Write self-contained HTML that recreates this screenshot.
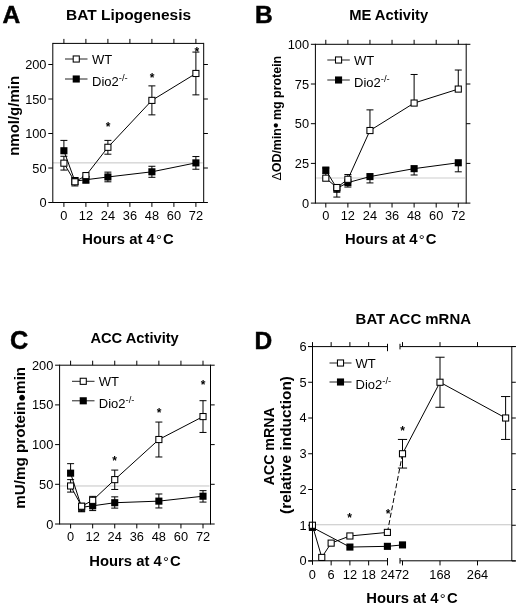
<!DOCTYPE html>
<html lang="en"><head><meta charset="utf-8"><title>Figure</title>
<style>html,body{margin:0;padding:0;background:#fff}svg{display:block;filter:blur(0.3px)}</style>
</head><body>
<svg width="520" height="608" viewBox="0 0 520 608" font-family="'Liberation Sans', sans-serif" fill="#000">
<rect width="520" height="608" fill="#fff"/>
<line x1="52.8" y1="162.89" x2="202.7" y2="162.89" stroke="#c4c4c4" stroke-width="1"/>
<line x1="52.8" y1="42.9" x2="52.8" y2="203" stroke="#000" stroke-width="1.0"/>
<line x1="203.7" y1="42.9" x2="203.7" y2="203" stroke="#000" stroke-width="1.0"/>
<line x1="52.8" y1="43.4" x2="203.7" y2="43.4" stroke="#000" stroke-width="1.0"/>
<line x1="52.8" y1="202.5" x2="203.7" y2="202.5" stroke="#000" stroke-width="1.0"/>
<line x1="63.9" y1="202.5" x2="63.9" y2="206.9" stroke="#000" stroke-width="1.0"/>
<line x1="63.9" y1="43.4" x2="63.9" y2="38.9" stroke="#000" stroke-width="1.0"/>
<text x="63.9" y="219.8" font-size="12.8" text-anchor="middle">0</text>
<line x1="85.9" y1="202.5" x2="85.9" y2="206.9" stroke="#000" stroke-width="1.0"/>
<line x1="85.9" y1="43.4" x2="85.9" y2="38.9" stroke="#000" stroke-width="1.0"/>
<text x="85.9" y="219.8" font-size="12.8" text-anchor="middle">12</text>
<line x1="107.9" y1="202.5" x2="107.9" y2="206.9" stroke="#000" stroke-width="1.0"/>
<line x1="107.9" y1="43.4" x2="107.9" y2="38.9" stroke="#000" stroke-width="1.0"/>
<text x="107.9" y="219.8" font-size="12.8" text-anchor="middle">24</text>
<line x1="129.9" y1="202.5" x2="129.9" y2="206.9" stroke="#000" stroke-width="1.0"/>
<line x1="129.9" y1="43.4" x2="129.9" y2="38.9" stroke="#000" stroke-width="1.0"/>
<text x="129.9" y="219.8" font-size="12.8" text-anchor="middle">36</text>
<line x1="151.9" y1="202.5" x2="151.9" y2="206.9" stroke="#000" stroke-width="1.0"/>
<line x1="151.9" y1="43.4" x2="151.9" y2="38.9" stroke="#000" stroke-width="1.0"/>
<text x="151.9" y="219.8" font-size="12.8" text-anchor="middle">48</text>
<line x1="173.9" y1="202.5" x2="173.9" y2="206.9" stroke="#000" stroke-width="1.0"/>
<line x1="173.9" y1="43.4" x2="173.9" y2="38.9" stroke="#000" stroke-width="1.0"/>
<text x="173.9" y="219.8" font-size="12.8" text-anchor="middle">60</text>
<line x1="195.9" y1="202.5" x2="195.9" y2="206.9" stroke="#000" stroke-width="1.0"/>
<line x1="195.9" y1="43.4" x2="195.9" y2="38.9" stroke="#000" stroke-width="1.0"/>
<text x="195.9" y="219.8" font-size="12.8" text-anchor="middle">72</text>
<line x1="52.8" y1="202.5" x2="48.3" y2="202.5" stroke="#000" stroke-width="1.0"/>
<line x1="203.7" y1="202.5" x2="207.9" y2="202.5" stroke="#000" stroke-width="1.0"/>
<text x="46.5" y="207" font-size="12.8" text-anchor="end">0</text>
<line x1="52.8" y1="168" x2="48.3" y2="168" stroke="#000" stroke-width="1.0"/>
<line x1="203.7" y1="168" x2="207.9" y2="168" stroke="#000" stroke-width="1.0"/>
<text x="46.5" y="172.5" font-size="12.8" text-anchor="end">50</text>
<line x1="52.8" y1="133.5" x2="48.3" y2="133.5" stroke="#000" stroke-width="1.0"/>
<line x1="203.7" y1="133.5" x2="207.9" y2="133.5" stroke="#000" stroke-width="1.0"/>
<text x="46.5" y="138" font-size="12.8" text-anchor="end">100</text>
<line x1="52.8" y1="99" x2="48.3" y2="99" stroke="#000" stroke-width="1.0"/>
<line x1="203.7" y1="99" x2="207.9" y2="99" stroke="#000" stroke-width="1.0"/>
<text x="46.5" y="103.5" font-size="12.8" text-anchor="end">150</text>
<line x1="52.8" y1="64.5" x2="48.3" y2="64.5" stroke="#000" stroke-width="1.0"/>
<line x1="203.7" y1="64.5" x2="207.9" y2="64.5" stroke="#000" stroke-width="1.0"/>
<text x="46.5" y="69" font-size="12.8" text-anchor="end">200</text>
<line x1="63.9" y1="140.4" x2="63.9" y2="150.75" stroke="#000" stroke-width="1.0"/>
<line x1="60.4" y1="140.4" x2="67.4" y2="140.4" stroke="#000" stroke-width="1.0"/>
<line x1="74.9" y1="177.66" x2="74.9" y2="184.56" stroke="#000" stroke-width="1.0"/>
<line x1="71.4" y1="177.66" x2="78.4" y2="177.66" stroke="#000" stroke-width="1.0"/>
<line x1="71.4" y1="184.56" x2="78.4" y2="184.56" stroke="#000" stroke-width="1.0"/>
<line x1="85.9" y1="176.28" x2="85.9" y2="183.18" stroke="#000" stroke-width="1.0"/>
<line x1="82.4" y1="176.28" x2="89.4" y2="176.28" stroke="#000" stroke-width="1.0"/>
<line x1="82.4" y1="183.18" x2="89.4" y2="183.18" stroke="#000" stroke-width="1.0"/>
<line x1="107.9" y1="172.14" x2="107.9" y2="181.8" stroke="#000" stroke-width="1.0"/>
<line x1="104.4" y1="172.14" x2="111.4" y2="172.14" stroke="#000" stroke-width="1.0"/>
<line x1="104.4" y1="181.8" x2="111.4" y2="181.8" stroke="#000" stroke-width="1.0"/>
<line x1="151.9" y1="166.28" x2="151.9" y2="177.31" stroke="#000" stroke-width="1.0"/>
<line x1="148.4" y1="166.28" x2="155.4" y2="166.28" stroke="#000" stroke-width="1.0"/>
<line x1="148.4" y1="177.31" x2="155.4" y2="177.31" stroke="#000" stroke-width="1.0"/>
<line x1="195.9" y1="156.55" x2="195.9" y2="169.24" stroke="#000" stroke-width="1.0"/>
<line x1="192.4" y1="156.55" x2="199.4" y2="156.55" stroke="#000" stroke-width="1.0"/>
<line x1="192.4" y1="169.24" x2="199.4" y2="169.24" stroke="#000" stroke-width="1.0"/>
<polyline points="63.9,150.75 74.9,181.11 85.9,179.73 107.9,176.97 151.9,171.8 195.9,162.89" fill="none" stroke="#000" stroke-width="1.0"/>
<rect x="60.35" y="147.2" width="7.1" height="7.1" fill="#000"/>
<rect x="71.35" y="177.56" width="7.1" height="7.1" fill="#000"/>
<rect x="82.35" y="176.18" width="7.1" height="7.1" fill="#000"/>
<rect x="104.35" y="173.42" width="7.1" height="7.1" fill="#000"/>
<rect x="148.35" y="168.25" width="7.1" height="7.1" fill="#000"/>
<rect x="192.35" y="159.34" width="7.1" height="7.1" fill="#000"/>
<line x1="63.9" y1="156.27" x2="63.9" y2="170.07" stroke="#000" stroke-width="1.0"/>
<line x1="60.4" y1="156.27" x2="67.4" y2="156.27" stroke="#000" stroke-width="1.0"/>
<line x1="60.4" y1="170.07" x2="67.4" y2="170.07" stroke="#000" stroke-width="1.0"/>
<line x1="74.9" y1="177.66" x2="74.9" y2="185.94" stroke="#000" stroke-width="1.0"/>
<line x1="71.4" y1="177.66" x2="78.4" y2="177.66" stroke="#000" stroke-width="1.0"/>
<line x1="71.4" y1="185.94" x2="78.4" y2="185.94" stroke="#000" stroke-width="1.0"/>
<line x1="107.9" y1="140.4" x2="107.9" y2="154.2" stroke="#000" stroke-width="1.0"/>
<line x1="104.4" y1="140.4" x2="111.4" y2="140.4" stroke="#000" stroke-width="1.0"/>
<line x1="104.4" y1="154.2" x2="111.4" y2="154.2" stroke="#000" stroke-width="1.0"/>
<line x1="151.9" y1="85.89" x2="151.9" y2="114.87" stroke="#000" stroke-width="1.0"/>
<line x1="148.4" y1="85.89" x2="155.4" y2="85.89" stroke="#000" stroke-width="1.0"/>
<line x1="148.4" y1="114.87" x2="155.4" y2="114.87" stroke="#000" stroke-width="1.0"/>
<line x1="195.9" y1="52.08" x2="195.9" y2="94.86" stroke="#000" stroke-width="1.0"/>
<line x1="192.4" y1="52.08" x2="199.4" y2="52.08" stroke="#000" stroke-width="1.0"/>
<line x1="192.4" y1="94.86" x2="199.4" y2="94.86" stroke="#000" stroke-width="1.0"/>
<polyline points="63.9,163.17 74.9,181.8 85.9,175.59 107.9,147.3 151.9,100.38 195.9,73.47" fill="none" stroke="#000" stroke-width="1.0"/>
<rect x="60.85" y="160.12" width="6.1" height="6.1" fill="#fff" stroke="#000" stroke-width="1.05"/>
<rect x="71.85" y="178.75" width="6.1" height="6.1" fill="#fff" stroke="#000" stroke-width="1.05"/>
<rect x="82.85" y="172.54" width="6.1" height="6.1" fill="#fff" stroke="#000" stroke-width="1.05"/>
<rect x="104.85" y="144.25" width="6.1" height="6.1" fill="#fff" stroke="#000" stroke-width="1.05"/>
<rect x="148.85" y="97.33" width="6.1" height="6.1" fill="#fff" stroke="#000" stroke-width="1.05"/>
<rect x="192.85" y="70.42" width="6.1" height="6.1" fill="#fff" stroke="#000" stroke-width="1.05"/>
<text x="108" y="131.3" font-size="12" font-weight="bold" text-anchor="middle">*</text>
<text x="152" y="81.5" font-size="12" font-weight="bold" text-anchor="middle">*</text>
<text x="196.9" y="55.8" font-size="12" font-weight="bold" text-anchor="middle">*</text>
<line x1="65" y1="59" x2="87.5" y2="59" stroke="#222" stroke-width="1.0"/>
<rect x="73.2" y="55.95" width="6.1" height="6.1" fill="#fff" stroke="#000" stroke-width="1.05"/>
<text x="92" y="63.5" font-size="13" text-anchor="start">WT</text>
<line x1="65" y1="79" x2="87.5" y2="79" stroke="#222" stroke-width="1.0"/>
<rect x="72.7" y="75.45" width="7.1" height="7.1" fill="#000"/>
<text x="92" y="86.3" font-size="13" text-anchor="start">Dio2<tspan font-size="9.5" dy="-5.5">-/-</tspan></text>
<text x="128.6" y="20.3" font-size="14.8" font-weight="bold" text-anchor="middle" textLength="125" lengthAdjust="spacingAndGlyphs">BAT Lipogenesis</text>
<text x="2.5" y="23.3" font-size="24.5" font-weight="bold" text-anchor="start" stroke="#000" stroke-width="0.5">A</text>
<text x="128" y="244.4" font-size="14.8" font-weight="bold" text-anchor="middle">Hours at 4<tspan font-weight="normal" dx="1.2" dy="0.8">°</tspan><tspan dx="1.2" dy="-0.8">C</tspan></text>
<text transform="translate(18.9,115.9) rotate(-90)" font-size="14.8" font-weight="bold" text-anchor="middle" textLength="79.9" lengthAdjust="spacingAndGlyphs">nmol/g/min</text>
<line x1="315.4" y1="178.01" x2="465.2" y2="178.01" stroke="#cdcdcd" stroke-width="1"/>
<line x1="315.4" y1="43.8" x2="315.4" y2="203.6" stroke="#000" stroke-width="1.0"/>
<line x1="466.2" y1="43.8" x2="466.2" y2="203.6" stroke="#000" stroke-width="1.0"/>
<line x1="315.4" y1="44.3" x2="466.2" y2="44.3" stroke="#000" stroke-width="1.0"/>
<line x1="315.4" y1="203.1" x2="466.2" y2="203.1" stroke="#000" stroke-width="1.0"/>
<line x1="325.8" y1="203.1" x2="325.8" y2="207.5" stroke="#000" stroke-width="1.0"/>
<line x1="325.8" y1="44.3" x2="325.8" y2="39.8" stroke="#000" stroke-width="1.0"/>
<text x="325.8" y="220.4" font-size="12.8" text-anchor="middle">0</text>
<line x1="347.88" y1="203.1" x2="347.88" y2="207.5" stroke="#000" stroke-width="1.0"/>
<line x1="347.88" y1="44.3" x2="347.88" y2="39.8" stroke="#000" stroke-width="1.0"/>
<text x="347.88" y="220.4" font-size="12.8" text-anchor="middle">12</text>
<line x1="369.96" y1="203.1" x2="369.96" y2="207.5" stroke="#000" stroke-width="1.0"/>
<line x1="369.96" y1="44.3" x2="369.96" y2="39.8" stroke="#000" stroke-width="1.0"/>
<text x="369.96" y="220.4" font-size="12.8" text-anchor="middle">24</text>
<line x1="392.04" y1="203.1" x2="392.04" y2="207.5" stroke="#000" stroke-width="1.0"/>
<line x1="392.04" y1="44.3" x2="392.04" y2="39.8" stroke="#000" stroke-width="1.0"/>
<text x="392.04" y="220.4" font-size="12.8" text-anchor="middle">36</text>
<line x1="414.12" y1="203.1" x2="414.12" y2="207.5" stroke="#000" stroke-width="1.0"/>
<line x1="414.12" y1="44.3" x2="414.12" y2="39.8" stroke="#000" stroke-width="1.0"/>
<text x="414.12" y="220.4" font-size="12.8" text-anchor="middle">48</text>
<line x1="436.2" y1="203.1" x2="436.2" y2="207.5" stroke="#000" stroke-width="1.0"/>
<line x1="436.2" y1="44.3" x2="436.2" y2="39.8" stroke="#000" stroke-width="1.0"/>
<text x="436.2" y="220.4" font-size="12.8" text-anchor="middle">60</text>
<line x1="458.28" y1="203.1" x2="458.28" y2="207.5" stroke="#000" stroke-width="1.0"/>
<line x1="458.28" y1="44.3" x2="458.28" y2="39.8" stroke="#000" stroke-width="1.0"/>
<text x="458.28" y="220.4" font-size="12.8" text-anchor="middle">72</text>
<line x1="315.4" y1="203.1" x2="310.9" y2="203.1" stroke="#000" stroke-width="1.0"/>
<line x1="466.2" y1="203.1" x2="470.4" y2="203.1" stroke="#000" stroke-width="1.0"/>
<text x="309.1" y="207.6" font-size="12.8" text-anchor="end">0</text>
<line x1="315.4" y1="163.4" x2="310.9" y2="163.4" stroke="#000" stroke-width="1.0"/>
<line x1="466.2" y1="163.4" x2="470.4" y2="163.4" stroke="#000" stroke-width="1.0"/>
<text x="309.1" y="167.9" font-size="12.8" text-anchor="end">25</text>
<line x1="315.4" y1="123.7" x2="310.9" y2="123.7" stroke="#000" stroke-width="1.0"/>
<line x1="466.2" y1="123.7" x2="470.4" y2="123.7" stroke="#000" stroke-width="1.0"/>
<text x="309.1" y="128.2" font-size="12.8" text-anchor="end">50</text>
<line x1="315.4" y1="84" x2="310.9" y2="84" stroke="#000" stroke-width="1.0"/>
<line x1="466.2" y1="84" x2="470.4" y2="84" stroke="#000" stroke-width="1.0"/>
<text x="309.1" y="88.5" font-size="12.8" text-anchor="end">75</text>
<line x1="315.4" y1="44.3" x2="310.9" y2="44.3" stroke="#000" stroke-width="1.0"/>
<line x1="466.2" y1="44.3" x2="470.4" y2="44.3" stroke="#000" stroke-width="1.0"/>
<text x="309.1" y="48.8" font-size="12.8" text-anchor="end">100</text>
<line x1="325.8" y1="168.01" x2="325.8" y2="170.07" stroke="#000" stroke-width="1.0"/>
<line x1="322.3" y1="168.01" x2="329.3" y2="168.01" stroke="#000" stroke-width="1.0"/>
<line x1="336.84" y1="188.33" x2="336.84" y2="192.3" stroke="#000" stroke-width="1.0"/>
<line x1="333.34" y1="192.3" x2="340.34" y2="192.3" stroke="#000" stroke-width="1.0"/>
<line x1="347.88" y1="182.61" x2="347.88" y2="187.06" stroke="#000" stroke-width="1.0"/>
<line x1="344.38" y1="187.06" x2="351.38" y2="187.06" stroke="#000" stroke-width="1.0"/>
<line x1="369.96" y1="176.58" x2="369.96" y2="182.93" stroke="#000" stroke-width="1.0"/>
<line x1="366.46" y1="182.93" x2="373.46" y2="182.93" stroke="#000" stroke-width="1.0"/>
<line x1="414.12" y1="168.64" x2="414.12" y2="174.99" stroke="#000" stroke-width="1.0"/>
<line x1="410.62" y1="174.99" x2="417.62" y2="174.99" stroke="#000" stroke-width="1.0"/>
<line x1="458.28" y1="162.76" x2="458.28" y2="171.82" stroke="#000" stroke-width="1.0"/>
<line x1="454.78" y1="171.82" x2="461.78" y2="171.82" stroke="#000" stroke-width="1.0"/>
<polyline points="325.8,170.07 336.84,188.33 347.88,182.61 369.96,176.58 414.12,168.64 458.28,162.76" fill="none" stroke="#000" stroke-width="1.0"/>
<rect x="322.25" y="166.52" width="7.1" height="7.1" fill="#000"/>
<rect x="333.29" y="184.78" width="7.1" height="7.1" fill="#000"/>
<rect x="344.33" y="179.06" width="7.1" height="7.1" fill="#000"/>
<rect x="366.41" y="173.03" width="7.1" height="7.1" fill="#000"/>
<rect x="410.57" y="165.09" width="7.1" height="7.1" fill="#000"/>
<rect x="454.73" y="159.21" width="7.1" height="7.1" fill="#000"/>
<line x1="325.8" y1="173.4" x2="325.8" y2="178.17" stroke="#000" stroke-width="1.0"/>
<line x1="322.3" y1="173.4" x2="329.3" y2="173.4" stroke="#000" stroke-width="1.0"/>
<line x1="336.84" y1="187.54" x2="336.84" y2="197.07" stroke="#000" stroke-width="1.0"/>
<line x1="333.34" y1="197.07" x2="340.34" y2="197.07" stroke="#000" stroke-width="1.0"/>
<line x1="347.88" y1="174.52" x2="347.88" y2="179.28" stroke="#000" stroke-width="1.0"/>
<line x1="344.38" y1="174.52" x2="351.38" y2="174.52" stroke="#000" stroke-width="1.0"/>
<line x1="369.96" y1="109.88" x2="369.96" y2="130.53" stroke="#000" stroke-width="1.0"/>
<line x1="366.46" y1="109.88" x2="373.46" y2="109.88" stroke="#000" stroke-width="1.0"/>
<line x1="414.12" y1="74.47" x2="414.12" y2="103.06" stroke="#000" stroke-width="1.0"/>
<line x1="410.62" y1="74.47" x2="417.62" y2="74.47" stroke="#000" stroke-width="1.0"/>
<line x1="458.28" y1="70.03" x2="458.28" y2="89.08" stroke="#000" stroke-width="1.0"/>
<line x1="454.78" y1="70.03" x2="461.78" y2="70.03" stroke="#000" stroke-width="1.0"/>
<polyline points="325.8,178.17 336.84,187.54 347.88,179.28 369.96,130.53 414.12,103.06 458.28,89.08" fill="none" stroke="#000" stroke-width="1.0"/>
<rect x="322.75" y="175.12" width="6.1" height="6.1" fill="#fff" stroke="#000" stroke-width="1.05"/>
<rect x="333.79" y="184.49" width="6.1" height="6.1" fill="#fff" stroke="#000" stroke-width="1.05"/>
<rect x="344.83" y="176.23" width="6.1" height="6.1" fill="#fff" stroke="#000" stroke-width="1.05"/>
<rect x="366.91" y="127.48" width="6.1" height="6.1" fill="#fff" stroke="#000" stroke-width="1.05"/>
<rect x="411.07" y="100.01" width="6.1" height="6.1" fill="#fff" stroke="#000" stroke-width="1.05"/>
<rect x="455.23" y="86.03" width="6.1" height="6.1" fill="#fff" stroke="#000" stroke-width="1.05"/>
<line x1="327.3" y1="60" x2="349.8" y2="60" stroke="#222" stroke-width="1.0"/>
<rect x="335.5" y="56.95" width="6.1" height="6.1" fill="#fff" stroke="#000" stroke-width="1.05"/>
<text x="354" y="64.5" font-size="13" text-anchor="start">WT</text>
<line x1="327.3" y1="80" x2="349.8" y2="80" stroke="#222" stroke-width="1.0"/>
<rect x="335" y="76.45" width="7.1" height="7.1" fill="#000"/>
<text x="354" y="87.3" font-size="13" text-anchor="start">Dio2<tspan font-size="9.5" dy="-5.5">-/-</tspan></text>
<text x="388.7" y="20.3" font-size="14.8" font-weight="bold" text-anchor="middle" textLength="79" lengthAdjust="spacingAndGlyphs">ME Activity</text>
<text x="255.1" y="22.9" font-size="24.5" font-weight="bold" text-anchor="start" stroke="#000" stroke-width="0.5">B</text>
<text x="390.8" y="244.4" font-size="14.8" font-weight="bold" text-anchor="middle">Hours at 4<tspan font-weight="normal" dx="1.2" dy="0.8">°</tspan><tspan dx="1.2" dy="-0.8">C</tspan></text>
<text transform="translate(280.8,118.2) rotate(-90) scale(0.98,1)" font-size="12.7" font-weight="bold" text-anchor="middle"><tspan font-weight="normal">Δ</tspan>OD/min<tspan font-size="15.5" dy="0.6">•</tspan><tspan dy="-0.6" dx="-0.8"> mg protein</tspan></text>
<line x1="59.6" y1="485.97" x2="209.5" y2="485.97" stroke="#c4c4c4" stroke-width="1"/>
<line x1="59.6" y1="364.7" x2="59.6" y2="524.5" stroke="#000" stroke-width="1.0"/>
<line x1="210.5" y1="364.7" x2="210.5" y2="524.5" stroke="#000" stroke-width="1.0"/>
<line x1="59.6" y1="365.2" x2="210.5" y2="365.2" stroke="#000" stroke-width="1.0"/>
<line x1="59.6" y1="524" x2="210.5" y2="524" stroke="#000" stroke-width="1.0"/>
<line x1="70.6" y1="524" x2="70.6" y2="528.4" stroke="#000" stroke-width="1.0"/>
<line x1="70.6" y1="365.2" x2="70.6" y2="360.7" stroke="#000" stroke-width="1.0"/>
<text x="70.6" y="541.3" font-size="12.8" text-anchor="middle">0</text>
<line x1="92.67" y1="524" x2="92.67" y2="528.4" stroke="#000" stroke-width="1.0"/>
<line x1="92.67" y1="365.2" x2="92.67" y2="360.7" stroke="#000" stroke-width="1.0"/>
<text x="92.67" y="541.3" font-size="12.8" text-anchor="middle">12</text>
<line x1="114.74" y1="524" x2="114.74" y2="528.4" stroke="#000" stroke-width="1.0"/>
<line x1="114.74" y1="365.2" x2="114.74" y2="360.7" stroke="#000" stroke-width="1.0"/>
<text x="114.74" y="541.3" font-size="12.8" text-anchor="middle">24</text>
<line x1="136.8" y1="524" x2="136.8" y2="528.4" stroke="#000" stroke-width="1.0"/>
<line x1="136.8" y1="365.2" x2="136.8" y2="360.7" stroke="#000" stroke-width="1.0"/>
<text x="136.8" y="541.3" font-size="12.8" text-anchor="middle">36</text>
<line x1="158.87" y1="524" x2="158.87" y2="528.4" stroke="#000" stroke-width="1.0"/>
<line x1="158.87" y1="365.2" x2="158.87" y2="360.7" stroke="#000" stroke-width="1.0"/>
<text x="158.87" y="541.3" font-size="12.8" text-anchor="middle">48</text>
<line x1="180.94" y1="524" x2="180.94" y2="528.4" stroke="#000" stroke-width="1.0"/>
<line x1="180.94" y1="365.2" x2="180.94" y2="360.7" stroke="#000" stroke-width="1.0"/>
<text x="180.94" y="541.3" font-size="12.8" text-anchor="middle">60</text>
<line x1="203.01" y1="524" x2="203.01" y2="528.4" stroke="#000" stroke-width="1.0"/>
<line x1="203.01" y1="365.2" x2="203.01" y2="360.7" stroke="#000" stroke-width="1.0"/>
<text x="203.01" y="541.3" font-size="12.8" text-anchor="middle">72</text>
<line x1="59.6" y1="524" x2="55.1" y2="524" stroke="#000" stroke-width="1.0"/>
<line x1="210.5" y1="524" x2="214.7" y2="524" stroke="#000" stroke-width="1.0"/>
<text x="53.3" y="528.5" font-size="12.8" text-anchor="end">0</text>
<line x1="59.6" y1="484.3" x2="55.1" y2="484.3" stroke="#000" stroke-width="1.0"/>
<line x1="210.5" y1="484.3" x2="214.7" y2="484.3" stroke="#000" stroke-width="1.0"/>
<text x="53.3" y="488.8" font-size="12.8" text-anchor="end">50</text>
<line x1="59.6" y1="444.6" x2="55.1" y2="444.6" stroke="#000" stroke-width="1.0"/>
<line x1="210.5" y1="444.6" x2="214.7" y2="444.6" stroke="#000" stroke-width="1.0"/>
<text x="53.3" y="449.1" font-size="12.8" text-anchor="end">100</text>
<line x1="59.6" y1="404.9" x2="55.1" y2="404.9" stroke="#000" stroke-width="1.0"/>
<line x1="210.5" y1="404.9" x2="214.7" y2="404.9" stroke="#000" stroke-width="1.0"/>
<text x="53.3" y="409.4" font-size="12.8" text-anchor="end">150</text>
<line x1="59.6" y1="365.2" x2="55.1" y2="365.2" stroke="#000" stroke-width="1.0"/>
<line x1="210.5" y1="365.2" x2="214.7" y2="365.2" stroke="#000" stroke-width="1.0"/>
<text x="53.3" y="369.7" font-size="12.8" text-anchor="end">200</text>
<line x1="70.6" y1="463.66" x2="70.6" y2="473.18" stroke="#000" stroke-width="1.0"/>
<line x1="67.1" y1="463.66" x2="74.1" y2="463.66" stroke="#000" stroke-width="1.0"/>
<line x1="81.63" y1="503.36" x2="81.63" y2="511.3" stroke="#000" stroke-width="1.0"/>
<line x1="78.13" y1="503.36" x2="85.13" y2="503.36" stroke="#000" stroke-width="1.0"/>
<line x1="78.13" y1="511.3" x2="85.13" y2="511.3" stroke="#000" stroke-width="1.0"/>
<line x1="92.67" y1="501.05" x2="92.67" y2="510.58" stroke="#000" stroke-width="1.0"/>
<line x1="89.17" y1="501.05" x2="96.17" y2="501.05" stroke="#000" stroke-width="1.0"/>
<line x1="89.17" y1="510.58" x2="96.17" y2="510.58" stroke="#000" stroke-width="1.0"/>
<line x1="114.74" y1="496.85" x2="114.74" y2="508.12" stroke="#000" stroke-width="1.0"/>
<line x1="111.24" y1="496.85" x2="118.24" y2="496.85" stroke="#000" stroke-width="1.0"/>
<line x1="111.24" y1="508.12" x2="118.24" y2="508.12" stroke="#000" stroke-width="1.0"/>
<line x1="158.87" y1="493.99" x2="158.87" y2="507.96" stroke="#000" stroke-width="1.0"/>
<line x1="155.37" y1="493.99" x2="162.37" y2="493.99" stroke="#000" stroke-width="1.0"/>
<line x1="155.37" y1="507.96" x2="162.37" y2="507.96" stroke="#000" stroke-width="1.0"/>
<line x1="203.01" y1="490.65" x2="203.01" y2="502.09" stroke="#000" stroke-width="1.0"/>
<line x1="199.51" y1="490.65" x2="206.51" y2="490.65" stroke="#000" stroke-width="1.0"/>
<line x1="199.51" y1="502.09" x2="206.51" y2="502.09" stroke="#000" stroke-width="1.0"/>
<polyline points="70.6,473.18 81.63,507.33 92.67,505.82 114.74,502.72 158.87,501.13 203.01,496.21" fill="none" stroke="#000" stroke-width="1.0"/>
<rect x="67.05" y="469.63" width="7.1" height="7.1" fill="#000"/>
<rect x="78.08" y="503.78" width="7.1" height="7.1" fill="#000"/>
<rect x="89.12" y="502.27" width="7.1" height="7.1" fill="#000"/>
<rect x="111.19" y="499.17" width="7.1" height="7.1" fill="#000"/>
<rect x="155.32" y="497.58" width="7.1" height="7.1" fill="#000"/>
<rect x="199.46" y="492.66" width="7.1" height="7.1" fill="#000"/>
<line x1="70.6" y1="479.62" x2="70.6" y2="492.08" stroke="#000" stroke-width="1.0"/>
<line x1="67.1" y1="479.62" x2="74.1" y2="479.62" stroke="#000" stroke-width="1.0"/>
<line x1="67.1" y1="492.08" x2="74.1" y2="492.08" stroke="#000" stroke-width="1.0"/>
<line x1="81.63" y1="506.21" x2="81.63" y2="511.77" stroke="#000" stroke-width="1.0"/>
<line x1="78.13" y1="511.77" x2="85.13" y2="511.77" stroke="#000" stroke-width="1.0"/>
<line x1="92.67" y1="496.37" x2="92.67" y2="504.31" stroke="#000" stroke-width="1.0"/>
<line x1="89.17" y1="496.37" x2="96.17" y2="496.37" stroke="#000" stroke-width="1.0"/>
<line x1="89.17" y1="504.31" x2="96.17" y2="504.31" stroke="#000" stroke-width="1.0"/>
<line x1="114.74" y1="470.09" x2="114.74" y2="489.46" stroke="#000" stroke-width="1.0"/>
<line x1="111.24" y1="470.09" x2="118.24" y2="470.09" stroke="#000" stroke-width="1.0"/>
<line x1="111.24" y1="489.46" x2="118.24" y2="489.46" stroke="#000" stroke-width="1.0"/>
<line x1="158.87" y1="422.05" x2="158.87" y2="456.99" stroke="#000" stroke-width="1.0"/>
<line x1="155.37" y1="422.05" x2="162.37" y2="422.05" stroke="#000" stroke-width="1.0"/>
<line x1="155.37" y1="456.99" x2="162.37" y2="456.99" stroke="#000" stroke-width="1.0"/>
<line x1="203.01" y1="400.69" x2="203.01" y2="432.45" stroke="#000" stroke-width="1.0"/>
<line x1="199.51" y1="400.69" x2="206.51" y2="400.69" stroke="#000" stroke-width="1.0"/>
<line x1="199.51" y1="432.45" x2="206.51" y2="432.45" stroke="#000" stroke-width="1.0"/>
<polyline points="70.6,485.97 81.63,506.21 92.67,500.34 114.74,479.62 158.87,439.52 203.01,416.57" fill="none" stroke="#000" stroke-width="1.0"/>
<rect x="67.55" y="482.92" width="6.1" height="6.1" fill="#fff" stroke="#000" stroke-width="1.05"/>
<rect x="78.58" y="503.16" width="6.1" height="6.1" fill="#fff" stroke="#000" stroke-width="1.05"/>
<rect x="89.62" y="497.29" width="6.1" height="6.1" fill="#fff" stroke="#000" stroke-width="1.05"/>
<rect x="111.69" y="476.57" width="6.1" height="6.1" fill="#fff" stroke="#000" stroke-width="1.05"/>
<rect x="155.82" y="436.47" width="6.1" height="6.1" fill="#fff" stroke="#000" stroke-width="1.05"/>
<rect x="199.96" y="413.52" width="6.1" height="6.1" fill="#fff" stroke="#000" stroke-width="1.05"/>
<text x="114.6" y="465.3" font-size="12" font-weight="bold" text-anchor="middle">*</text>
<text x="159" y="417.2" font-size="12" font-weight="bold" text-anchor="middle">*</text>
<text x="203" y="388.6" font-size="12" font-weight="bold" text-anchor="middle">*</text>
<line x1="72" y1="381.3" x2="94.5" y2="381.3" stroke="#222" stroke-width="1.0"/>
<rect x="80.2" y="378.25" width="6.1" height="6.1" fill="#fff" stroke="#000" stroke-width="1.05"/>
<text x="98.8" y="385.8" font-size="13" text-anchor="start">WT</text>
<line x1="72" y1="400.8" x2="94.5" y2="400.8" stroke="#222" stroke-width="1.0"/>
<rect x="79.7" y="397.25" width="7.1" height="7.1" fill="#000"/>
<text x="98.8" y="408.1" font-size="13" text-anchor="start">Dio2<tspan font-size="9.5" dy="-5.5">-/-</tspan></text>
<text x="134.6" y="342.7" font-size="14.8" font-weight="bold" text-anchor="middle" textLength="88.4" lengthAdjust="spacingAndGlyphs">ACC Activity</text>
<text x="9.9" y="349.3" font-size="25.2" font-weight="bold" text-anchor="start" stroke="#000" stroke-width="0.5">C</text>
<text x="135" y="565.8" font-size="14.8" font-weight="bold" text-anchor="middle">Hours at 4<tspan font-weight="normal" dx="1.2" dy="0.8">°</tspan><tspan dx="1.2" dy="-0.8">C</tspan></text>
<text transform="translate(24.9,437.8) rotate(-90) scale(1.022,1)" font-size="14.9" font-weight="bold" text-anchor="middle">mU/mg protein<tspan font-size="20" dy="3.7" dx="0.2">•</tspan><tspan dy="-3.7" dx="0.2">min</tspan></text>
<line x1="312.5" y1="524.75" x2="510.8" y2="524.75" stroke="#c4c4c4" stroke-width="1"/>
<line x1="312.5" y1="342.1" x2="312.5" y2="564.8" stroke="#000" stroke-width="1.0"/>
<line x1="511.8" y1="346.6" x2="511.8" y2="560.8" stroke="#000" stroke-width="1.0"/>
<line x1="308.2" y1="346.6" x2="387.5" y2="346.6" stroke="#000" stroke-width="1.0"/>
<line x1="400" y1="346.6" x2="515.8" y2="346.6" stroke="#000" stroke-width="1.0"/>
<line x1="387.5" y1="343.8" x2="387.5" y2="351.2" stroke="#000" stroke-width="1.0"/>
<line x1="400" y1="343.8" x2="400" y2="349.4" stroke="#000" stroke-width="1.0"/>
<line x1="308.2" y1="560.8" x2="387.5" y2="560.8" stroke="#000" stroke-width="1.0"/>
<line x1="400" y1="560.8" x2="515.8" y2="560.8" stroke="#000" stroke-width="1.0"/>
<line x1="387.5" y1="558" x2="387.5" y2="565.4" stroke="#000" stroke-width="1.0"/>
<line x1="400" y1="558" x2="400" y2="563.6" stroke="#000" stroke-width="1.0"/>
<line x1="331.15" y1="346.6" x2="331.15" y2="342.1" stroke="#000" stroke-width="1.0"/>
<line x1="331.15" y1="560.8" x2="331.15" y2="565.4" stroke="#000" stroke-width="1.0"/>
<line x1="349.9" y1="346.6" x2="349.9" y2="342.1" stroke="#000" stroke-width="1.0"/>
<line x1="349.9" y1="560.8" x2="349.9" y2="565.4" stroke="#000" stroke-width="1.0"/>
<line x1="368.65" y1="346.6" x2="368.65" y2="342.1" stroke="#000" stroke-width="1.0"/>
<line x1="368.65" y1="560.8" x2="368.65" y2="565.4" stroke="#000" stroke-width="1.0"/>
<line x1="402.5" y1="346.6" x2="402.5" y2="342.1" stroke="#000" stroke-width="1.0"/>
<line x1="402.5" y1="560.8" x2="402.5" y2="565.4" stroke="#000" stroke-width="1.0"/>
<line x1="440" y1="346.6" x2="440" y2="342.1" stroke="#000" stroke-width="1.0"/>
<line x1="440" y1="560.8" x2="440" y2="565.4" stroke="#000" stroke-width="1.0"/>
<line x1="477.5" y1="346.6" x2="477.5" y2="342.1" stroke="#000" stroke-width="1.0"/>
<line x1="477.5" y1="560.8" x2="477.5" y2="565.4" stroke="#000" stroke-width="1.0"/>
<text x="312.4" y="578.6" font-size="12.8" text-anchor="middle">0</text>
<text x="331.15" y="578.6" font-size="12.8" text-anchor="middle">6</text>
<text x="349.9" y="578.6" font-size="12.8" text-anchor="middle">12</text>
<text x="368.65" y="578.6" font-size="12.8" text-anchor="middle">18</text>
<text x="387.7" y="578.6" font-size="12.8" text-anchor="middle">24</text>
<text x="402" y="578.6" font-size="12.8" text-anchor="middle">72</text>
<text x="440" y="578.6" font-size="12.8" text-anchor="middle">168</text>
<text x="477.5" y="578.6" font-size="12.8" text-anchor="middle">264</text>
<line x1="312.5" y1="561" x2="308.2" y2="561" stroke="#000" stroke-width="1.0"/>
<line x1="511.8" y1="561" x2="515.8" y2="561" stroke="#000" stroke-width="1.0"/>
<text x="306.6" y="565.4" font-size="12.8" text-anchor="end">0</text>
<line x1="312.5" y1="525.25" x2="308.2" y2="525.25" stroke="#000" stroke-width="1.0"/>
<line x1="511.8" y1="525.25" x2="515.8" y2="525.25" stroke="#000" stroke-width="1.0"/>
<text x="306.6" y="529.65" font-size="12.8" text-anchor="end">1</text>
<line x1="312.5" y1="489.5" x2="308.2" y2="489.5" stroke="#000" stroke-width="1.0"/>
<line x1="511.8" y1="489.5" x2="515.8" y2="489.5" stroke="#000" stroke-width="1.0"/>
<text x="306.6" y="493.9" font-size="12.8" text-anchor="end">2</text>
<line x1="312.5" y1="453.75" x2="308.2" y2="453.75" stroke="#000" stroke-width="1.0"/>
<line x1="511.8" y1="453.75" x2="515.8" y2="453.75" stroke="#000" stroke-width="1.0"/>
<text x="306.6" y="458.15" font-size="12.8" text-anchor="end">3</text>
<line x1="312.5" y1="418" x2="308.2" y2="418" stroke="#000" stroke-width="1.0"/>
<line x1="511.8" y1="418" x2="515.8" y2="418" stroke="#000" stroke-width="1.0"/>
<text x="306.6" y="422.4" font-size="12.8" text-anchor="end">4</text>
<line x1="312.5" y1="382.25" x2="308.2" y2="382.25" stroke="#000" stroke-width="1.0"/>
<line x1="511.8" y1="382.25" x2="515.8" y2="382.25" stroke="#000" stroke-width="1.0"/>
<text x="306.6" y="386.65" font-size="12.8" text-anchor="end">5</text>
<line x1="312.5" y1="346.5" x2="308.2" y2="346.5" stroke="#000" stroke-width="1.0"/>
<line x1="511.8" y1="346.5" x2="515.8" y2="346.5" stroke="#000" stroke-width="1.0"/>
<text x="306.6" y="350.9" font-size="12.8" text-anchor="end">6</text>
<line x1="402.5" y1="439.45" x2="402.5" y2="468.05" stroke="#000" stroke-width="1.0"/>
<line x1="397.9" y1="439.45" x2="407.1" y2="439.45" stroke="#000" stroke-width="1.0"/>
<line x1="397.9" y1="468.05" x2="407.1" y2="468.05" stroke="#000" stroke-width="1.0"/>
<line x1="440" y1="357.23" x2="440" y2="407.27" stroke="#000" stroke-width="1.0"/>
<line x1="435.4" y1="357.23" x2="444.6" y2="357.23" stroke="#000" stroke-width="1.0"/>
<line x1="435.4" y1="407.27" x2="444.6" y2="407.27" stroke="#000" stroke-width="1.0"/>
<line x1="505.62" y1="396.55" x2="505.62" y2="439.45" stroke="#000" stroke-width="1.0"/>
<line x1="501.02" y1="396.55" x2="510.23" y2="396.55" stroke="#000" stroke-width="1.0"/>
<line x1="501.02" y1="439.45" x2="510.23" y2="439.45" stroke="#000" stroke-width="1.0"/>
<polyline points="312.4,527.39 349.9,547.06 387.4,546.34 402.5,544.91" fill="none" stroke="#000" stroke-width="1.0"/>
<rect x="308.85" y="523.85" width="7.1" height="7.1" fill="#000"/>
<rect x="346.35" y="543.51" width="7.1" height="7.1" fill="#000"/>
<rect x="383.85" y="542.79" width="7.1" height="7.1" fill="#000"/>
<rect x="398.95" y="541.36" width="7.1" height="7.1" fill="#000"/>
<polyline points="312.4,525.25 321.77,557.42 331.15,543.12 349.9,535.98 387.4,532.4" fill="none" stroke="#000" stroke-width="1.0"/>
<polyline points="387.4,532.4 402.5,453.75" fill="none" stroke="#000" stroke-width="1.0" stroke-dasharray="5 2.5"/>
<polyline points="402.5,453.75 440,382.25 505.62,418" fill="none" stroke="#000" stroke-width="1.0"/>
<rect x="309.35" y="522.2" width="6.1" height="6.1" fill="#fff" stroke="#000" stroke-width="1.05"/>
<rect x="318.72" y="554.38" width="6.1" height="6.1" fill="#fff" stroke="#000" stroke-width="1.05"/>
<rect x="328.1" y="540.08" width="6.1" height="6.1" fill="#fff" stroke="#000" stroke-width="1.05"/>
<rect x="346.85" y="532.93" width="6.1" height="6.1" fill="#fff" stroke="#000" stroke-width="1.05"/>
<rect x="384.35" y="529.35" width="6.1" height="6.1" fill="#fff" stroke="#000" stroke-width="1.05"/>
<rect x="399.45" y="450.7" width="6.1" height="6.1" fill="#fff" stroke="#000" stroke-width="1.05"/>
<rect x="436.95" y="379.2" width="6.1" height="6.1" fill="#fff" stroke="#000" stroke-width="1.05"/>
<rect x="502.57" y="414.95" width="6.1" height="6.1" fill="#fff" stroke="#000" stroke-width="1.05"/>
<line x1="312.5" y1="346.6" x2="312.5" y2="560.8" stroke="#000" stroke-width="1.0"/>
<text x="349.6" y="522.4" font-size="12" font-weight="bold" text-anchor="middle">*</text>
<text x="388" y="517.9" font-size="12" font-weight="bold" text-anchor="middle">*</text>
<text x="402.5" y="434.6" font-size="12" font-weight="bold" text-anchor="middle">*</text>
<line x1="329.5" y1="363" x2="351.5" y2="363" stroke="#222" stroke-width="1.0"/>
<rect x="337.45" y="359.95" width="6.1" height="6.1" fill="#fff" stroke="#000" stroke-width="1.05"/>
<text x="355.5" y="367.5" font-size="13" text-anchor="start">WT</text>
<line x1="329.5" y1="382" x2="351.5" y2="382" stroke="#222" stroke-width="1.0"/>
<rect x="336.95" y="378.45" width="7.1" height="7.1" fill="#000"/>
<text x="355.5" y="389.3" font-size="13" text-anchor="start">Dio2<tspan font-size="9.5" dy="-5.5">-/-</tspan></text>
<text x="413.3" y="324.4" font-size="14.8" font-weight="bold" text-anchor="middle" textLength="115.4" lengthAdjust="spacingAndGlyphs">BAT ACC mRNA</text>
<text x="254.4" y="349" font-size="24.5" font-weight="bold" text-anchor="start" stroke="#000" stroke-width="0.5">D</text>
<text x="411.9" y="603.3" font-size="14.8" font-weight="bold" text-anchor="middle">Hours at 4<tspan font-weight="normal" dx="1.2" dy="0.8">°</tspan><tspan dx="1.2" dy="-0.8">C</tspan></text>
<text transform="translate(274.2,446.3) rotate(-90)" font-size="14" font-weight="bold" text-anchor="middle" textLength="78" lengthAdjust="spacingAndGlyphs">ACC mRNA</text>
<text transform="translate(291.2,445) rotate(-90)" font-size="14" font-weight="bold" text-anchor="middle" textLength="138" lengthAdjust="spacingAndGlyphs">(relative induction)</text>
</svg>
</body></html>
